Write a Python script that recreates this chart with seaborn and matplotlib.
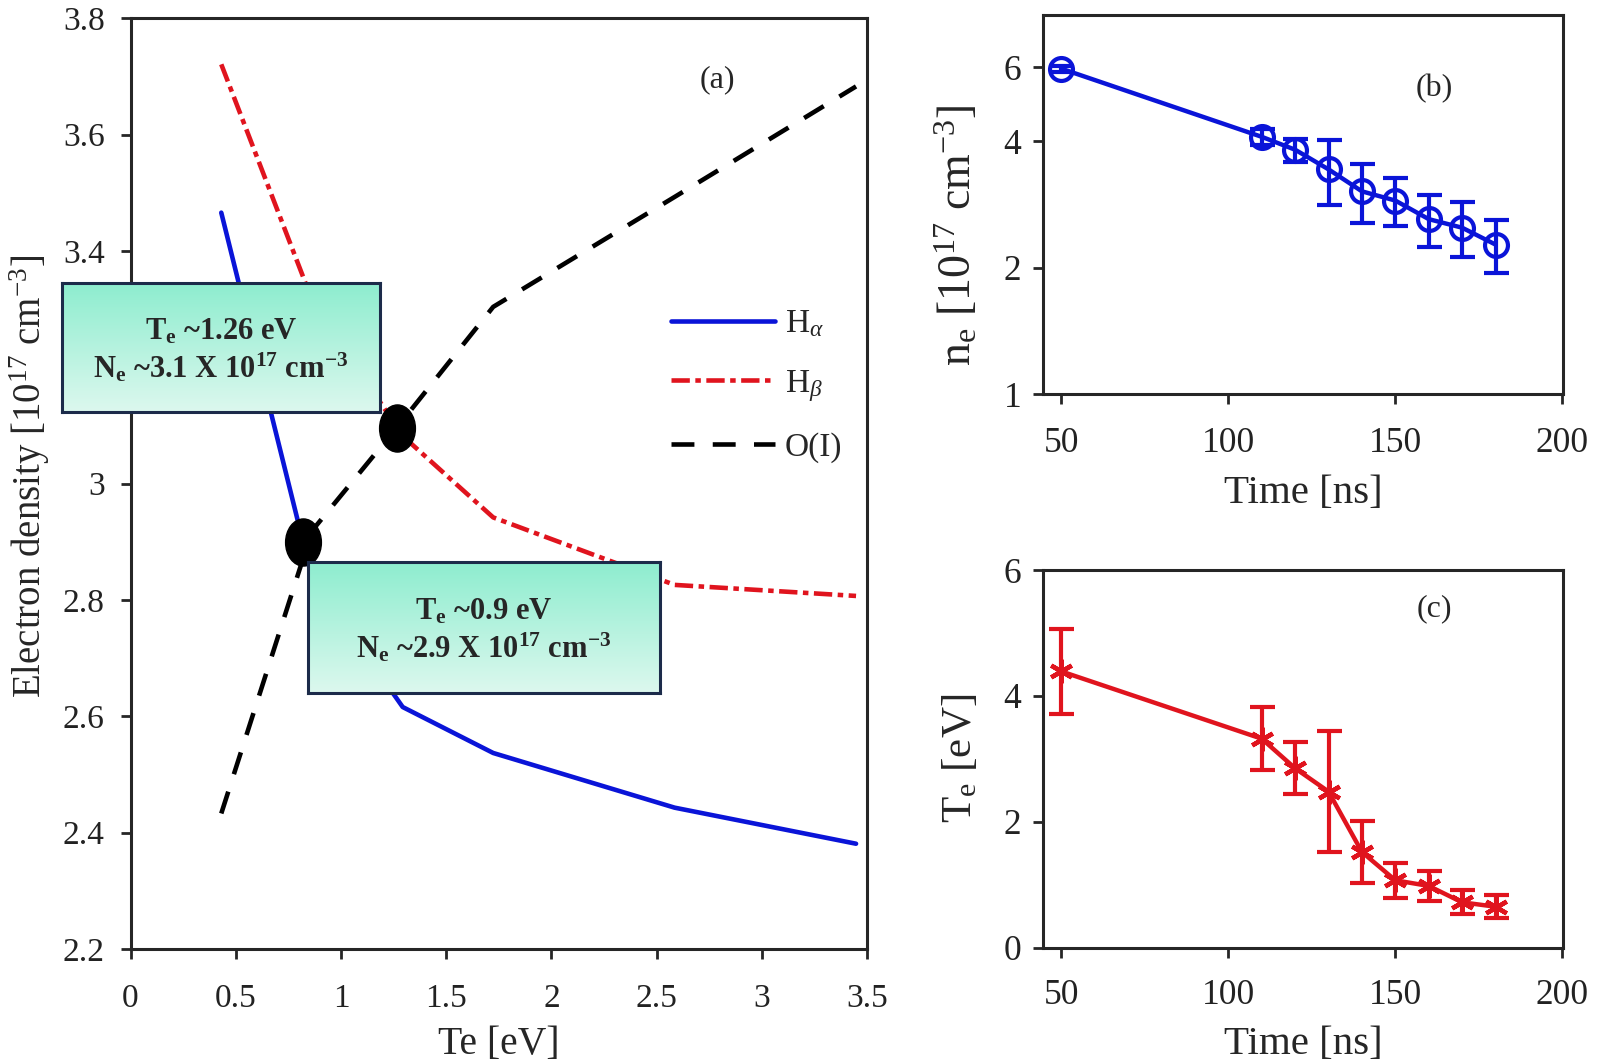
import matplotlib
matplotlib.use("Agg")
import numpy as np
import pandas as pd
import matplotlib.pyplot as plt
from matplotlib.path import Path
from matplotlib.colors import LinearSegmentedColormap
from matplotlib.ticker import FixedLocator, NullFormatter
import seaborn as sns

sns.set_theme(style="white")
plt.rcParams['font.family'] = ['Liberation Serif', 'DejaVu Serif']
plt.rcParams['mathtext.fontset'] = 'custom'
plt.rcParams['mathtext.rm'] = 'Liberation Serif'
plt.rcParams['mathtext.it'] = 'Liberation Serif:italic'
plt.rcParams['mathtext.bf'] = 'Liberation Serif:bold'

#%% data
# (a) electron density vs assumed Te for three lines
te_grid = [0.431, 0.862, 1.293, 1.723, 2.585, 3.447]
ne_halpha = [3.466, 2.838, 2.616, 2.537, 2.443, 2.381]
ne_hbeta = [3.721, 3.316, 3.082, 2.942, 2.826, 2.807]
ne_oi = [2.433, 2.919, 3.109, 3.304, 3.493, 3.683]
line_names = ['H$_{\\alpha}$', 'H$_{\\beta}$', 'O(I)']

# crossing points and their notes
cross_te = [0.82, 1.265]
cross_ne = [2.90, 3.096]
note_top = ['T$_\\mathbf{e}$ ~0.9 eV', 'T$_\\mathbf{e}$ ~1.26 eV']
note_bot = ['N$_\\mathbf{e}$ ~2.9 X 10$^\\mathbf{17}$ cm$^\\mathbf{-3}$',
            'N$_\\mathbf{e}$ ~3.1 X 10$^\\mathbf{17}$ cm$^\\mathbf{-3}$']

# (b), (c) time evolution
time_ns = [50, 110, 120, 130, 140, 150, 160, 170, 180]
ne_time = [5.96, 4.10, 3.82, 3.43, 3.04, 2.89, 2.61, 2.49, 2.27]
ne_err = [0.10, 0.17, 0.24, 0.61, 0.49, 0.38, 0.37, 0.37, 0.33]
te_time = [4.39, 3.32, 2.85, 2.48, 1.52, 1.07, 0.98, 0.72, 0.65]
te_err = [0.67, 0.50, 0.41, 0.96, 0.50, 0.28, 0.24, 0.19, 0.18]

#%%
fig = plt.figure(figsize=(16, 10.62), dpi=100)
ax_a = fig.add_axes([0.0816, 0.1064, 0.4604, 0.8763])
ax_b = fig.add_axes([0.6518, 0.629, 0.3251, 0.3569])
ax_c = fig.add_axes([0.6518, 0.1077, 0.3251, 0.3555])

spine_col = '#262626'
for ax in (ax_a, ax_b, ax_c):
    for s in ax.spines.values():
        s.set_visible(True)
        s.set_color(spine_col)
        s.set_linewidth(2.2)
    ax.tick_params(direction='out', length=7.5, width=2, color=spine_col,
                   labelcolor='#222222', top=False, right=False,
                   left=True, bottom=True)
    ax.grid(False)

#%% panel (a)
blue, red = '#0a14d8', '#e0141e'
sns.lineplot(x=te_grid, y=ne_halpha, ax=ax_a, color=blue, lw=3.3,
             label=line_names[0])
sns.lineplot(x=te_grid, y=ne_hbeta, ax=ax_a, color=red, lw=3.3,
             label=line_names[1])
ax_a.lines[-1].set_dashes((4, 1.2, 1.2, 1.2))
sns.lineplot(x=te_grid, y=ne_oi, ax=ax_a, color='black', lw=3.3,
             label=line_names[2])
ax_a.lines[-1].set_dashes((5, 4))

ell = Path(Path.unit_circle().vertices * [0.76, 1.0], Path.unit_circle().codes)
ax_a.scatter(cross_te, cross_ne, marker=ell, s=1150, color='black', zorder=5)

ax_a.set_xlim(0, 3.5)
ax_a.set_ylim(2.2, 3.8)
ax_a.set_xticks(np.arange(0, 3.51, 0.5))
ax_a.set_xticklabels(['0', '0.5', '1', '1.5', '2', '2.5', '3', '3.5'])
ax_a.set_yticks(np.arange(2.2, 3.81, 0.2))
ax_a.set_yticklabels(['2.2', '2.4', '2.6', '2.8', '3', '3.2', '3.4', '3.6', '3.8'])
ax_a.tick_params(axis='x', labelsize=24, pad=17)
ax_a.tick_params(axis='y', labelsize=24, pad=11)
ax_a.set_xlabel('Te [eV]', fontsize=28.5, labelpad=9)
ax_a.set_ylabel('Electron density [10$^{17}$ cm$^{-3}$]', fontsize=28)
ax_a.yaxis.set_label_coords(-0.107, 0.508)
ax_a.text(2.787, 3.695, '(a)', fontsize=23, ha='center', va='center')

leg = ax_a.legend(loc='upper left', bbox_to_anchor=(0.734, 0.688), frameon=False,
                  fontsize=24, handlelength=3.1, handletextpad=0.3,
                  labelspacing=0.85, borderpad=0, borderaxespad=0)

# annotation boxes with a soft green gradient
grad = LinearSegmentedColormap.from_list('box', ['#8eedcf', '#dcf8ee'])
box_pos = [[0.1924, 0.3479, 0.2201, 0.1233], [0.0386, 0.6123, 0.1989, 0.1209]]
for pos, t1, t2 in zip(box_pos, note_top, note_bot):
    bx = fig.add_axes(pos, zorder=6)
    bx.imshow(np.linspace(0, 1, 100).reshape(-1, 1), aspect='auto', cmap=grad,
              extent=(0, 1, 0, 1))
    bx.set_xticks([])
    bx.set_yticks([])
    for s in bx.spines.values():
        s.set_visible(True)
        s.set_color('#1c2b4a')
        s.set_linewidth(2.2)
    bx.text(0.5, 0.62, t1, fontsize=22, fontweight='bold', ha='center',
            va='center', transform=bx.transAxes)
    bx.text(0.5, 0.34, t2, fontsize=22, fontweight='bold', ha='center',
            va='center', transform=bx.transAxes)

#%% panel (b)
sns.lineplot(x=time_ns, y=ne_time, ax=ax_b, color=blue, lw=3.2, marker='o',
             markersize=16.5, markerfacecolor='none', markeredgecolor=blue,
             markeredgewidth=3)
ax_b.errorbar(time_ns, ne_time, yerr=ne_err, fmt='none', ecolor=blue,
              elinewidth=3, capsize=9, capthick=3)
ax_b.set_yscale('log')
ax_b.set_xlim(44.5, 200.2)
ax_b.set_ylim(1, 8)
ax_b.yaxis.set_major_locator(FixedLocator([1, 2, 4, 6]))
ax_b.set_yticklabels(['1', '2', '4', '6'])
ax_b.yaxis.set_minor_formatter(NullFormatter())
ax_b.tick_params(which='minor', direction='out', length=3, width=1.5, color=spine_col)
ax_b.set_xticks([50, 100, 150, 200])
ax_b.tick_params(axis='x', labelsize=25.5, pad=16)
ax_b.tick_params(axis='y', labelsize=25.5, pad=8)
ax_b.set_xlabel('Time [ns]', fontsize=29.5, labelpad=11)
ax_b.set_ylabel('n$_\\mathrm{e}$ [10$^{17}$ cm$^{-3}$]', fontsize=33)
ax_b.yaxis.set_label_coords(-0.12, 0.42)
ax_b.text(161.6, 5.33, '(b)', fontsize=23, ha='center', va='center')

#%% panel (c)
sns.lineplot(x=time_ns, y=te_time, ax=ax_c, color=red, lw=3.2, marker=(6, 2, 0),
             markersize=17, markeredgecolor=red, markeredgewidth=3.2)
ax_c.errorbar(time_ns, te_time, yerr=te_err, fmt='none', ecolor=red,
              elinewidth=3, capsize=9, capthick=3)
ax_c.set_xlim(44.5, 200.2)
ax_c.set_ylim(0, 6)
ax_c.set_yticks([0, 2, 4, 6])
ax_c.set_xticks([50, 100, 150, 200])
ax_c.tick_params(axis='x', labelsize=25.5, pad=15)
ax_c.tick_params(axis='y', labelsize=25.5, pad=8)
ax_c.set_xlabel('Time [ns]', fontsize=29.5, labelpad=10)
ax_c.set_ylabel('T$_\\mathrm{e}$ [eV]', fontsize=31, labelpad=17)
ax_c.text(161.6, 5.38, '(c)', fontsize=23, ha='center', va='center')

fig.savefig('out.png', dpi=100)
